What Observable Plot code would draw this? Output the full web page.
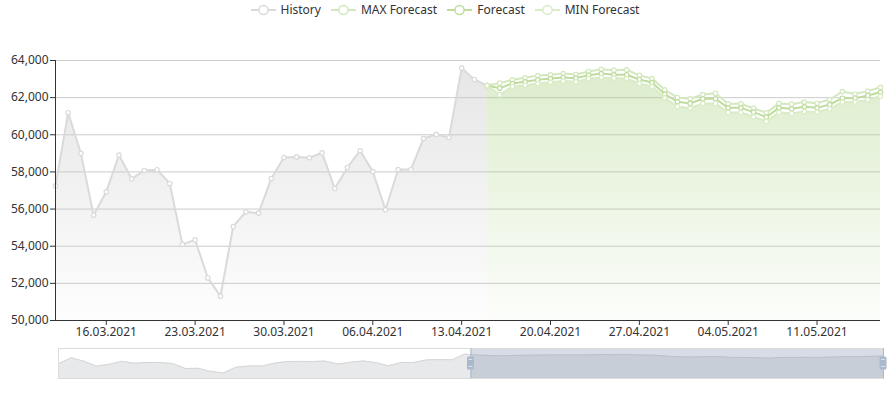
<!DOCTYPE html>
<html><head><meta charset="utf-8">
<script src="https://cdn.jsdelivr.net/npm/d3@7"></script>
<script src="https://cdn.jsdelivr.net/npm/@observablehq/plot@0.6"></script>
<style>
body{margin:0;background:#fff;}
#wrap{position:relative;width:890px;height:400px;font-family:"Noto Sans",sans-serif;}
#legend{position:absolute;top:2px;left:0;width:890px;height:16px;display:flex;justify-content:center;align-items:center;font-size:12px;color:#333;}
.item{display:flex;align-items:center;margin:0 5px;}
.item span{margin-left:5px;line-height:16px;}
#main{position:absolute;top:0;left:0;}
#nav{position:absolute;top:345px;left:0;}
</style></head>
<body><div id="wrap"><div id="main"></div><div id="nav"></div><div id="legend"></div></div>
<script>
// ---- data ----
const firstDay = "12.03.2021";
const historyValues = [57250, 61190, 59000, 55670, 56930, 58910, 57630, 58080, 58120, 57380,
  54100, 54340, 52290, 51310, 55060, 55850, 55780, 57650, 58780, 58810,
  58760, 59030, 57110, 58240, 59140, 58020, 55960, 58130, 58130, 59800,
  60020, 59850, 63590, 62980, 62650];
const forecastStart = "15.04.2021";
const forecastMax = [62650, 62780, 62960, 63070, 63190, 63230, 63300, 63250, 63410, 63530,
  63480, 63500, 63200, 63030, 62420, 62010, 61940, 62170, 62240, 61670,
  61670, 61430, 61180, 61690, 61650, 61760, 61700, 61900, 62330, 62200,
  62350, 62560];
const forecastMid = [62650, 62510, 62760, 62850, 62960, 63030, 63085, 63050, 63210, 63300,
  63230, 63230, 62980, 62815, 62190, 61780, 61690, 61940, 61940, 61450,
  61450, 61220, 60950, 61450, 61400, 61510, 61450, 61630, 61970, 61970,
  62120, 62290];
const forecastMin = [62650, 62150, 62600, 62670, 62760, 62830, 62890, 62850, 63030, 63085,
  63050, 63030, 62760, 62600, 61990, 61520, 61430, 61690, 61690, 61200,
  61200, 60970, 60720, 61200, 61150, 61250, 61220, 61400, 61760, 61760,
  61880, 62080];
const xTickLabels = ["16.03.2021", "23.03.2021", "30.03.2021", "06.04.2021", "13.04.2021",
  "20.04.2021", "27.04.2021", "04.05.2021", "11.05.2021"];
const lastDay = "16.05.2021";
const yTicks = [50000, 52000, 54000, 56000, 58000, 60000, 62000, 64000];
const seriesNames = ["History", "MAX Forecast", "Forecast", "MIN Forecast"];
const seriesColors = ["#dadada", "#d4e8bf", "#bfdc9f", "#d9ecc6"];
const navRangePct = [50, 100];

// ---- build tables ----
const parse = d3.utcParse("%d.%m.%Y");
const fmt = d3.utcFormat("%d.%m.%Y");
const d0 = parse(firstDay), f0 = parse(forecastStart);
const hist = historyValues.map((v, i) => ({date: d3.utcDay.offset(d0, i), v}));
const fc = forecastMid.map((v, i) => ({date: d3.utcDay.offset(f0, i), max: forecastMax[i], mid: v, min: forecastMin[i]}));
const yMin = yTicks[0], yMax = yTicks[yTicks.length - 1];

const defs = () => {
  const g = d3.create("svg:g");
  const dd = g.append("defs");
  const g1 = dd.append("linearGradient").attr("id", "gHist").attr("x1", 0).attr("y1", 0).attr("x2", 0).attr("y2", 1);
  g1.append("stop").attr("offset", 0).attr("stop-color", "rgb(200,200,200)").attr("stop-opacity", 0.45);
  g1.append("stop").attr("offset", 1).attr("stop-color", "rgb(200,200,200)").attr("stop-opacity", 0.03);
  const g2 = dd.append("linearGradient").attr("id", "gFc").attr("x1", 0).attr("y1", 0).attr("x2", 0).attr("y2", 1);
  g2.append("stop").attr("offset", 0).attr("stop-color", "rgb(160,205,115)").attr("stop-opacity", 0.35);
  g2.append("stop").attr("offset", 1).attr("stop-color", "rgb(160,205,115)").attr("stop-opacity", 0.03);
  return g.node();
};

const lineWithDots = (data, y, color) => [
  Plot.line(data, {x: "date", y, stroke: color, strokeWidth: 2}),
  Plot.dot(data, {x: "date", y, r: 2.2, fill: "#fff", stroke: color, strokeWidth: 1.2})
];

const main = Plot.plot({
  width: 890, height: 345,
  marginTop: 60, marginBottom: 25, marginLeft: 55, marginRight: 10,
  style: {fontFamily: "Noto Sans", fontSize: "12px", color: "#333", background: "transparent"},
  x: {type: "utc", domain: [d0, parse(lastDay)], ticks: xTickLabels.map(parse), tickFormat: fmt, tickSize: 5, tickPadding: 2, label: null},
  y: {domain: [yMin, yMax], ticks: yTicks, tickFormat: d3.format(","), tickSize: 5, tickPadding: 2, label: null},
  marks: [
    defs,
    Plot.ruleY(yTicks.slice(1), {stroke: "#ccc"}),
    Plot.areaY(hist, {x: "date", y1: yMin, y2: "v", fill: "url(#gHist)"}),
    Plot.areaY(fc, {x: "date", y1: yMin, y2: "min", fill: "url(#gFc)"}),
    ...lineWithDots(hist, "v", seriesColors[0]),
    ...lineWithDots(fc, "max", seriesColors[1]),
    ...lineWithDots(fc, "mid", seriesColors[2]),
    ...lineWithDots(fc, "min", seriesColors[3]),
    Plot.ruleY([yMin], {stroke: "#333"}),
    Plot.ruleX([d0], {stroke: "#333"})
  ]
});
document.getElementById("main").appendChild(main);

// ---- navigator ----
const navVals = historyValues.concat(forecastMid.slice(1));
const nav = navVals.map((v, i) => ({i, v}));
const n = navVals.length - 1;
const lo0 = d3.min(navVals), hi0 = d3.max(navVals), pad = (hi0 - lo0) * 0.3;
const lo = lo0 - pad, hi = hi0 + pad;
const s0 = n * navRangePct[0] / 100, s1 = n * navRangePct[1] / 100;
const navPlot = Plot.plot({
  width: 890, height: 55,
  marginTop: 3, marginBottom: 22, marginLeft: 58, marginRight: 7,
  style: {background: "transparent"},
  x: {domain: [0, n], axis: null},
  y: {domain: [lo, hi], axis: null},
  marks: [
    Plot.areaY(nav, {x: "i", y1: lo, y2: "v", fill: "#e8e9eb"}),
    Plot.line(nav, {x: "i", y: "v", stroke: "#d6d6d6", strokeWidth: 1}),
    Plot.rect([0], {x1: s0, x2: s1, y1: lo, y2: hi, fill: "rgb(135,150,175)", fillOpacity: 0.32}),
    Plot.frame({stroke: "#dcdcdc"}),
    Plot.ruleX([s0, s1], {y1: lo, y2: hi, stroke: "#a9b8cd"}),
    Plot.rect([s0, s1], {x1: d => d, x2: d => d, y1: lo + (hi - lo) * 0.28, y2: lo + (hi - lo) * 0.72,
      insetLeft: -3.5, insetRight: -3.5, rx: 1.5, fill: "#a9b8cd"}),
    Plot.rect([s0, s1], {x1: d => d, x2: d => d, y1: lo + (hi - lo) * 0.6, y2: lo + (hi - lo) * 0.62,
      insetLeft: -2, insetRight: -2, fill: "#fff"}),
    Plot.rect([s0, s1], {x1: d => d, x2: d => d, y1: lo + (hi - lo) * 0.38, y2: lo + (hi - lo) * 0.40,
      insetLeft: -2, insetRight: -2, fill: "#fff"})
  ]
});
document.getElementById("nav").appendChild(navPlot);

// ---- legend ----
const legend = d3.select("#legend");
seriesNames.forEach((name, k) => {
  const it = legend.append("div").attr("class", "item");
  const svg = it.append("svg").attr("width", 25).attr("height", 14);
  svg.append("line").attr("x1", 0).attr("x2", 25).attr("y1", 7).attr("y2", 7).attr("stroke", seriesColors[k]).attr("stroke-width", 2);
  svg.append("circle").attr("cx", 12.5).attr("cy", 7).attr("r", 4.6).attr("fill", "#fff").attr("stroke", seriesColors[k]).attr("stroke-width", 1.5);
  it.append("span").text(name);
});
</script>
</body></html>
